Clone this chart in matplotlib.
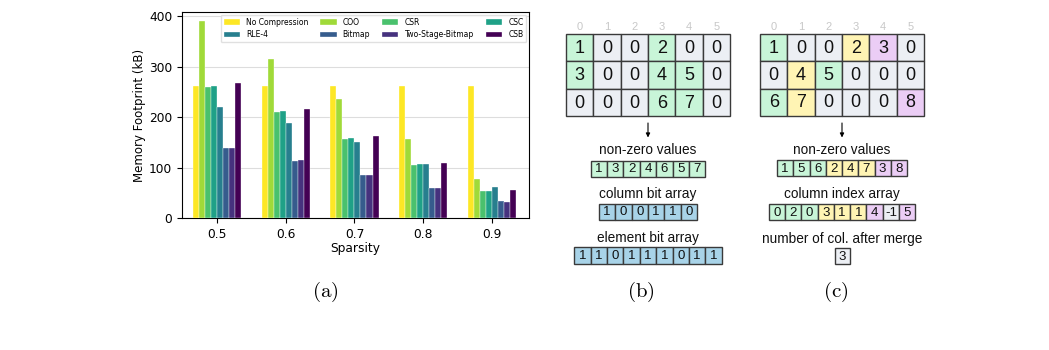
import numpy as np
import matplotlib.pyplot as plt
from matplotlib.patches import Rectangle

# ---- data for (a) ----
sparsity = [0.5, 0.6, 0.7, 0.8, 0.9]
formats = ['No Compression', 'COO', 'CSR', 'CSC', 'RLE-4', 'Bitmap', 'Two-Stage-Bitmap', 'CSB']
no_compression = [262, 262, 262, 262, 262]
coo = [390, 315, 235, 157, 78]
csr = [260, 210, 157, 105, 53]
csc = [262, 212, 159, 107, 54]
rle4 = [219, 188, 150, 107, 62]
bitmap = [138, 113, 86, 60, 34]
two_stage = [139, 114, 86, 59, 31]
csb = [268, 216, 163, 109, 55]
series = [no_compression, coo, csr, csc, rle4, bitmap, two_stage, csb]

# ---- data for (b) ----
mat_b = [[1, 0, 0, 2, 0, 0],
         [3, 0, 0, 4, 5, 0],
         [0, 0, 0, 6, 7, 0]]
nz_b = [1, 3, 2, 4, 6, 5, 7]
col_bits_b = [1, 0, 0, 1, 1, 0]
elem_bits_b = [1, 1, 0, 1, 1, 1, 0, 1, 1]

# ---- data for (c) ----
mat_c = [[1, 0, 0, 2, 3, 0],
         [0, 4, 5, 0, 0, 0],
         [6, 7, 0, 0, 0, 8]]
grp_c = [['g', 'z', 'z', 'y', 'p', 'z'],
         ['z', 'y', 'g', 'z', 'z', 'z'],
         ['g', 'y', 'z', 'z', 'z', 'p']]
nz_c = [1, 5, 6, 2, 4, 7, 3, 8]
nz_grp_c = ['g', 'g', 'g', 'y', 'y', 'y', 'p', 'p']
colidx_c = ['0', '2', '0', '3', '1', '1', '4', '-1', '5']
colidx_grp_c = ['g', 'g', 'g', 'y', 'y', 'y', 'p', 'z', 'p']
merged_cols = ['3']

fill = {'g': '#c8f5d8', 'z': '#eceff4', 'y': '#fff4b4', 'p': '#ebcdf5', 'b': '#a8d3e8'}
edge = '#3a3a3a'

W, H = 1049, 350
fig = plt.figure(figsize=(W / 100, H / 100), dpi=100)
plt.rcParams['mathtext.fontset'] = 'cm'

# ---------------- (a) bar chart ----------------
ax = fig.add_axes([182 / W, 1 - 218 / H, (529 - 182) / W, (218 - 12) / H])
colors = plt.cm.viridis(np.linspace(1, 0, len(formats)))
bw = 0.00875
x = np.array(sparsity)
bars = []
for i, (name, vals) in enumerate(zip(formats, series)):
    b = ax.bar(x + (i - 3.5) * bw, vals, bw, color=colors[i], label=name,
               edgecolor='white', linewidth=0.25, zorder=3)
    bars.append(b)
ax.set_xlim(0.449, 0.954)
ax.set_ylim(0, 408)
ax.set_xticks(sparsity)
ax.set_yticks([0, 100, 200, 300, 400])
ax.tick_params(labelsize=8.8)
ax.grid(axis='y', color='#dddddd', linewidth=0.8, zorder=0)
ax.set_xlabel('Sparsity', fontsize=8.8, labelpad=1)
ax.set_ylabel('Memory Footprint (kB)', fontsize=8.5, labelpad=2)
order = [0, 4, 1, 5, 2, 6, 3, 7]
ax.legend([bars[k] for k in order], [formats[k] for k in order], ncol=4,
          fontsize=5.5, loc='upper right', bbox_to_anchor=(0.997, 0.995),
          columnspacing=1.6, handlelength=2.1, borderaxespad=0.2,
          labelspacing=0.5, framealpha=0.9, edgecolor='#dddddd')

# ---------------- (b), (c) diagrams (pixel coords) ----------------
ov = fig.add_axes([0, 0, 1, 1])
ov.set_xlim(0, W)
ov.set_ylim(H, 0)
ov.axis('off')

sans = 'Liberation Sans'


def cell(x0, y0, w, h, txt, fc, fs):
    ov.add_patch(Rectangle((x0, y0), w, h, facecolor=fc, edgecolor=edge, linewidth=1.0))
    ov.text(x0 + w / 2, y0 + h / 2 + 0.5, str(txt), ha='center', va='center',
            fontsize=fs, family=sans, color='#111111')


def row(cx, y0, vals, grps, w=16.4, h=16.2, fs=9.5):
    x0 = cx - w * len(vals) / 2
    for i, (v, g) in enumerate(zip(vals, grps)):
        cell(x0 + i * w, y0, w, h, v, fill[g], fs)


def matrix(cx, mat, grps, cw=27.4, top=34):
    x0 = cx - cw * 3
    for j in range(6):
        ov.text(x0 + (j + 0.5) * cw, top - 7, str(j), ha='center', va='center',
                fontsize=8, family=sans, color='#c8c8c8')
    for r in range(3):
        for j in range(6):
            cell(x0 + j * cw, top + r * cw, cw, cw, mat[r][j], fill[grps[r][j]], 13)
    ov.annotate('', xy=(cx, 137.5), xytext=(cx, 123),
                arrowprops=dict(arrowstyle='-|>', color='black', lw=0.8,
                                mutation_scale=6, shrinkA=0, shrinkB=0))


def label(cx, y, s):
    ov.text(cx, y, s, ha='center', va='center', fontsize=9.8, family=sans, color='#111111')


# (b)
cb = 648
grp_b = [['g' if v != 0 else 'z' for v in r] for r in mat_b]
matrix(cb, mat_b, grp_b)
label(cb, 150.5, 'non-zero values')
row(cb, 160.5, nz_b, ['g'] * len(nz_b))
label(cb, 194, 'column bit array')
row(cb, 203.5, col_bits_b, ['b'] * len(col_bits_b))
label(cb, 238, 'element bit array')
row(cb, 247.3, elem_bits_b, ['b'] * len(elem_bits_b))

# (c)
cc = 842
matrix(cc, mat_c, grp_c, cw=27.3)
label(cc, 150.5, 'non-zero values')
row(cc, 160.2, nz_c, nz_grp_c, w=16.25)
label(cc, 194, 'column index array')
row(cc, 204, colidx_c, colidx_grp_c, w=16.3)
label(cc, 239, 'number of col. after merge')
row(cc, 248.3, merged_cols, ['z'], w=15, h=15.8)

# panel labels
for px, s in [(325, '(a)'), (641, '(b)'), (836, '(c)')]:
    ov.text(px, 292, r'$\mathrm{' + s + '}$', ha='center', va='center', fontsize=15)

fig.savefig('out.png', dpi=100)
